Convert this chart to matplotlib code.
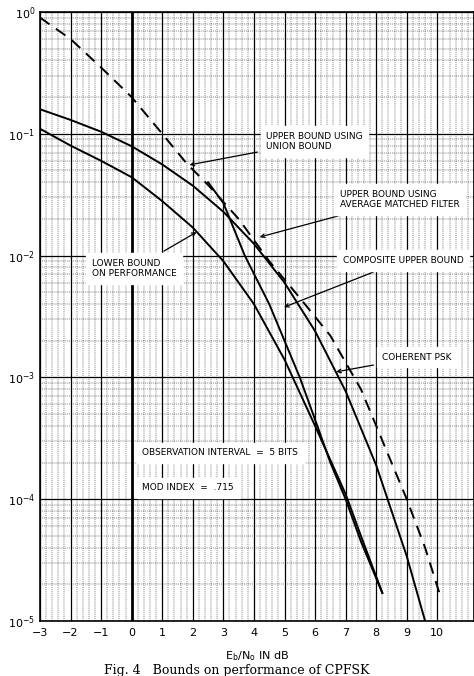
import numpy as np
import matplotlib
matplotlib.use("Agg")
import matplotlib.pyplot as plt
from matplotlib.ticker import FixedLocator, NullFormatter

# values (Eb/No in dB, probability of error)
psk_x = [-3, -2, -1, 0, 1, 2, 3, 4, 5, 6, 7, 8, 9, 9.6]
psk_y = [0.159, 0.13, 0.104, 0.079, 0.056, 0.0375, 0.0229, 0.0125, 0.006, 0.0024, 0.00077, 0.00019, 3.4e-5, 1e-5]

dash_x = [-3, -2, -1, 0, 1, 1.8, 2.5, 3.5, 4.5, 5.5, 6.5, 7.5, 8, 9, 9.6, 10.1]
dash_y = [0.9, 0.6, 0.35, 0.2, 0.1, 0.057, 0.038, 0.02, 0.009, 0.0045, 0.0022, 0.0008, 0.0004, 0.0001, 4e-5, 1.6e-5]

low_x = [-3, -2, -1, 0, 1, 2, 3, 4, 5, 6, 7, 7.5, 8.2]
low_y = [0.11, 0.08, 0.06, 0.044, 0.028, 0.017, 0.009, 0.004, 0.0014, 0.0004, 0.00011, 5e-5, 1.7e-5]

comp_x = [2.5, 3, 3.7, 4.5, 5, 5.5, 6, 6.5, 7, 7.5, 8.2]
comp_y = [0.04, 0.027, 0.01, 0.004, 0.002, 0.001, 0.00045, 0.0002, 0.0001, 4.5e-5, 1.7e-5]

x_ticks = list(range(-3, 11))

fig = plt.figure(figsize=(4.74, 6.76), dpi=100)
ax = fig.add_axes([40 / 474, 55 / 676, 434 / 474, 609 / 676])
ax.set_yscale("log")
ax.set_xlim(-3, 11.2)
ax.set_ylim(1e-5, 1)

# graph-paper grid
ax.xaxis.set_minor_locator(FixedLocator(np.arange(-3, 11.21, 0.2)))
ax.set_xticks(x_ticks)
ax.yaxis.set_minor_locator(matplotlib.ticker.LogLocator(subs=np.arange(2, 10), numticks=20))
ax.yaxis.set_minor_formatter(NullFormatter())
ax.grid(True, which="major", color="black", lw=0.9)
ax.grid(True, which="minor", color="black", lw=0.35, ls=(0, (2, 2)))
ax.axvline(0, color="black", lw=2)
ax.tick_params(which="both", length=0, labelsize=8)
ax.tick_params(axis="x", pad=5)
for s in ax.spines.values():
    s.set_linewidth(1.2)

ax.plot(psk_x, psk_y, color="black", lw=1.4)
ax.plot(low_x, low_y, color="black", lw=1.4)
ax.plot(comp_x, comp_y, color="black", lw=1.4)
ax.plot(dash_x, dash_y, color="black", lw=1.4, ls=(0, (6, 4)))

kw = dict(fontsize=6.5, family="DejaVu Sans", backgroundcolor="white")
ap = dict(arrowstyle="->", color="black", lw=0.9)
ax.annotate("UPPER BOUND USING\nUNION BOUND", xy=(1.8, 0.055), xytext=(4.4, 0.075), arrowprops=ap, **kw)
ax.annotate("UPPER BOUND USING\nAVERAGE MATCHED FILTER", xy=(4.1, 0.014), xytext=(6.8, 0.025), arrowprops=ap, **kw)
ax.annotate("LOWER BOUND\nON PERFORMANCE", xy=(2.2, 0.016), xytext=(-1.3, 0.0068), arrowprops=ap, **kw)
ax.annotate("COMPOSITE UPPER BOUND", xy=(4.9, 0.0037), xytext=(6.9, 0.0087), arrowprops=ap, **kw)
ax.annotate("COHERENT PSK", xy=(6.6, 0.0011), xytext=(8.2, 0.0014), arrowprops=ap, **kw)
ax.text(0.35, 0.00023, "OBSERVATION INTERVAL  =  5 BITS", **kw)
ax.text(0.35, 0.000118, "MOD INDEX  =  .715", **kw)

ax.set_ylabel("PROBABILITY OF ERROR", fontsize=6.5, labelpad=6)
ax.set_xlabel(r"E$_\mathrm{b}$/N$_\mathrm{o}$ IN dB", fontsize=8, labelpad=8)
fig.text(0.5, 0.003, "Fig. 4   Bounds on performance of CPFSK", ha="center", fontsize=9, family="serif")

fig.savefig("out.png", dpi=100)
